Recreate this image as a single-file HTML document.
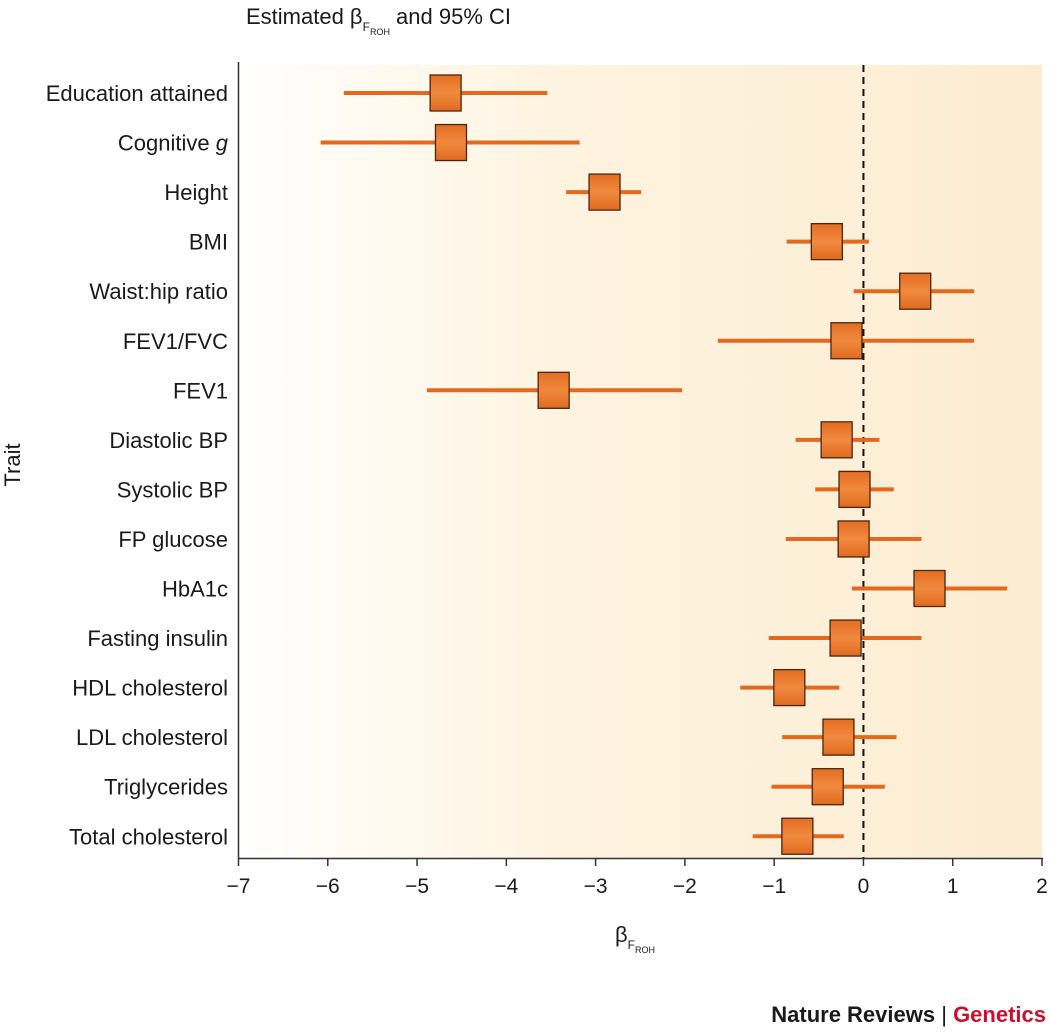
<!DOCTYPE html>
<html><head><meta charset="utf-8"><style>
body{margin:0;background:#fff;}
svg text{font-family:"Liberation Sans",sans-serif;fill:#1a1a1a;}
</style></head><body>
<svg width="1050" height="1031" viewBox="0 0 1050 1031">
<defs>
<linearGradient id="bg" x1="0" x2="1" y1="0" y2="0">
<stop offset="0" stop-color="#ffffff"/>
<stop offset="0.1" stop-color="#fffcf6"/>
<stop offset="0.4" stop-color="#fef3df"/>
<stop offset="0.75" stop-color="#fdefd8"/>
<stop offset="1" stop-color="#fcecd0"/>
</linearGradient>
<linearGradient id="box" x1="0" x2="0" y1="0" y2="1">
<stop offset="0" stop-color="#e36d22"/>
<stop offset="0.5" stop-color="#f08a3e"/>
<stop offset="1" stop-color="#e06a1f"/>
</linearGradient>
</defs>
<text x="246" y="24" font-size="22">Estimated β<tspan font-size="12" dy="7">F</tspan><tspan font-size="9" dy="4">ROH</tspan><tspan dy="-11"> and 95% CI</tspan></text>
<rect x="239" y="65" width="803" height="793" fill="url(#bg)"/>
<line x1="238.5" y1="62" x2="238.5" y2="858" stroke="#333" stroke-width="1.5"/>
<line x1="238" y1="858.5" x2="1043" y2="858.5" stroke="#333" stroke-width="1.5"/>
<g id="xticks"></g>
<line id="zero" stroke="#111" stroke-width="2" stroke-dasharray="7,5"/>
<g id="marks"></g>
<g id="labels"></g>
<text x="20" y="465" font-size="22" transform="rotate(-90 20 465)" text-anchor="middle">Trait</text>
<text x="615" y="942" font-size="22">β<tspan font-size="12" dy="7">F</tspan><tspan font-size="9" dy="4">ROH</tspan></text>
<text x="1046" y="1022" font-size="22" font-weight="bold" text-anchor="end">Nature Reviews <tspan font-weight="normal">|</tspan> <tspan fill="#c8102e" style="fill:#c8102e">Genetics</tspan></text>
</svg>
<script>
const traits=["Education attained","Cognitive g","Height","BMI","Waist:hip ratio","FEV1/FVC","FEV1","Diastolic BP","Systolic BP","FP glucose","HbA1c","Fasting insulin","HDL cholesterol","LDL cholesterol","Triglycerides","Total cholesterol"];
const estimates=[-4.68,-4.62,-2.90,-0.41,0.58,-0.19,-3.47,-0.30,-0.10,-0.11,0.74,-0.20,-0.83,-0.28,-0.40,-0.74];
const lowerCI=[-5.82,-6.08,-3.33,-0.86,-0.11,-1.63,-4.89,-0.76,-0.54,-0.87,-0.13,-1.06,-1.38,-0.91,-1.03,-1.24];
const upperCI=[-3.54,-3.18,-2.49,0.06,1.24,1.24,-2.03,0.18,0.34,0.65,1.61,0.65,-0.27,0.37,0.24,-0.22];
const xTicks=[-7,-6,-5,-4,-3,-2,-1,0,1,2];
const xTickLabels=["−7","−6","−5","−4","−3","−2","−1","0","1","2"];
const NS="http://www.w3.org/2000/svg";
const x=v=>238.5+(v+7)*(1042-238.5)/9;
const y=i=>93+i*49.55;
function mk(tag,attrs,parent){const e=document.createElementNS(NS,tag);for(const k in attrs)e.setAttribute(k,attrs[k]);parent.appendChild(e);return e;}
const xt=document.getElementById('xticks');
xTicks.forEach((t,i)=>{
 const l=mk('line',{x1:x(t),x2:x(t),y1:858,y2:866,stroke:'#333','stroke-width':1.5},xt);
 
 
 const tx=mk('text',{x:x(t),y:893,'font-size':21,'text-anchor':'middle'},xt);
 tx.textContent=xTickLabels[i];
 
 
});
const z=document.getElementById('zero');
z.setAttribute('x1',x(0));z.setAttribute('x2',x(0));z.setAttribute('y1',65);z.setAttribute('y2',858);
const m=document.getElementById('marks'),lb=document.getElementById('labels');
traits.forEach((t,i)=>{
 const cy=y(i);
 const ci=mk('line',{x1:x(lowerCI[i]),x2:x(upperCI[i]),y1:cy,y2:cy,stroke:'#e4681d','stroke-width':4},m);
 
 
 const b=mk('rect',{x:x(estimates[i])-15.5,y:cy-18,width:31,height:36,fill:'url(#box)',stroke:'#4a2510','stroke-width':1.3},m);
 
 
 const tx=mk('text',{x:228,y:cy+8,'font-size':22,'text-anchor':'end'},lb);
 if(t==="Cognitive g"){tx.innerHTML='Cognitive <tspan font-style="italic">g</tspan>';}else tx.textContent=t;
 
 
});
</script>
</body></html>
